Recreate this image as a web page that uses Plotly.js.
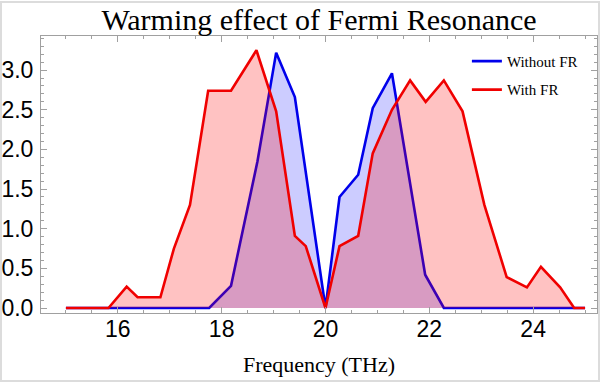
<!DOCTYPE html>
<html>
<head>
<meta charset="utf-8">
<script src="https://cdn.plot.ly/plotly-3.0.1.min.js"></script>
<style>html,body{margin:0;padding:0;background:#fff;}#chart{width:600px;height:383px;}</style>
</head>
<body>
<div id="chart"></div>
<script>
// Without FR (blue)
var freqWithout = [15.0, 17.76, 18.18, 18.69, 19.05, 19.41, 20.0, 20.27, 20.63, 20.91, 21.28, 21.92, 22.28, 25.0];
var valWithout  = [0.0,  0.0,   0.28,  1.85,  3.22,  2.66,  0.0,  1.40,  1.68,  2.52,  2.96,  0.42,  0.0,   0.0];
// With FR (red)
var freqWith = [15.0, 15.82, 16.17, 16.38, 16.82, 17.08, 17.39, 17.74, 18.18, 18.67, 19.05, 19.41, 19.62, 20.0,
                20.27, 20.63, 20.91, 21.28, 21.63, 21.93, 22.28, 22.64, 23.06, 23.49, 23.88, 24.15, 24.52, 24.79, 25.0];
var valWith  = [0.0,  0.0,   0.27,  0.135, 0.135, 0.75,  1.30,  2.74,  2.74,  3.25,  2.48,  0.91,  0.78,  0.0,
                0.78,  0.91,  1.95,  2.50,  2.87,  2.60,  2.87,  2.48,  1.30,  0.39,  0.26,  0.52,  0.26,  0.0,   0.0];
var seriesNames = ["Without FR", "With FR"];
var xTickVals = [16, 18, 20, 22, 24];
var yTickVals = [0, 0.5, 1.0, 1.5, 2.0, 2.5, 3.0];

var traces = [
  {x: freqWithout, y: valWithout, type: 'scatter', mode: 'lines', fill: 'tozeroy',
   fillcolor: 'rgba(0,0,255,0.2)', line: {width: 0, color: 'rgba(0,0,255,0)'}, showlegend: false, hoverinfo: 'skip'},
  {x: freqWithout, y: valWithout, type: 'scatter', mode: 'lines', name: seriesNames[0],
   line: {color: 'rgb(0,0,235)', width: 2.6}, legendgroup: 'a'},
  {x: freqWith, y: valWith, type: 'scatter', mode: 'lines', fill: 'tozeroy',
   fillcolor: 'rgba(255,0,0,0.24)', line: {width: 0, color: 'rgba(255,0,0,0)'}, showlegend: false, hoverinfo: 'skip'},
  {x: freqWith, y: valWith, type: 'scatter', mode: 'lines', name: seriesNames[1],
   line: {color: 'rgb(240,0,0)', width: 2.6}, legendgroup: 'b'}
];

var axisCommon = {
  showgrid: false, zeroline: false, showline: true, linecolor: '#a0a0a0', linewidth: 1,
  mirror: 'allticks', ticks: 'inside', tickcolor: '#a0a0a0', ticklen: 6, tickwidth: 1,
  tickfont: {family: 'Liberation Sans, Arial, sans-serif', size: 23, color: '#000'}
};

var layout = {
  width: 600, height: 383,
  margin: {l: 41, r: 3, t: 36, b: 70},
  paper_bgcolor: '#fff', plot_bgcolor: '#fff',
  title: {text: 'Warming effect of Fermi Resonance', x: 0.5, xref: 'paper', xanchor: 'center',
          y: 0.948, yref: 'container', yanchor: 'middle',
          font: {family: 'Liberation Serif, Times New Roman, serif', size: 30, color: '#000'}},
  xaxis: Object.assign({}, axisCommon, {
    range: [14.52, 25.23], tickmode: 'array', tickvals: xTickVals, ticktext: xTickVals.map(String),
    ticklabelstandoff: -5,
    minor: {dtick: 0.5, tick0: 0, ticks: 'inside', ticklen: 3, tickcolor: '#a0a0a0'},
    title: {text: 'Frequency (THz)', standoff: 16,
            font: {family: 'Liberation Serif, Times New Roman, serif', size: 22, color: '#000'}}
  }),
  yaxis: Object.assign({}, axisCommon, {
    range: [-0.063, 3.43], tickmode: 'array', tickvals: yTickVals, ticktext: yTickVals.map(function(v){return v.toFixed(1);}),
    ticklabelstandoff: 2,
    minor: {dtick: 0.1, tick0: 0, ticks: 'inside', ticklen: 3, tickcolor: '#a0a0a0'}
  }),
  legend: {x: 0.766, y: 0.968, xanchor: 'left', yanchor: 'top', bgcolor: 'rgba(0,0,0,0)',
           font: {family: 'Liberation Serif, Times New Roman, serif', size: 15, color: '#000'},
           tracegroupgap: 6},
  shapes: [{type: 'rect', xref: 'paper', yref: 'paper', x0: -40/556, x1: 1 + 2/556, y0: -68/277, y1: 1 + 34/277,
            line: {color: '#dcdcdc', width: 2}, fillcolor: 'rgba(0,0,0,0)', layer: 'below'}],
  showlegend: true
};

Plotly.newPlot('chart', traces, layout, {displayModeBar: false, staticPlot: true});
</script>
</body>
</html>
